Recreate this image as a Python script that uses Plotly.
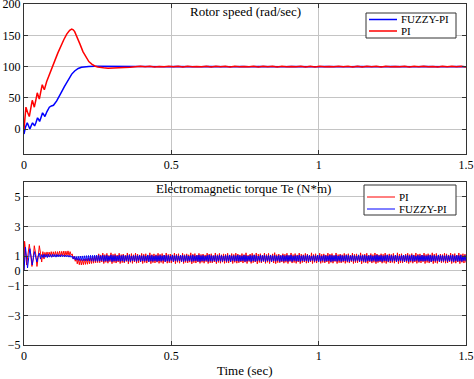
import numpy as np
import plotly.graph_objects as go

# ---------------- Rotor speed (rad/sec) ----------------
speed_pi_t = [0, 0.003, 0.0066, 0.012, 0.018, 0.023, 0.028, 0.032, 0.035, 0.040, 0.045, 0.049,
              0.052, 0.057, 0.062, 0.066, 0.069, 0.077, 0.086, 0.094, 0.105, 0.115, 0.125, 0.135,
              0.145, 0.155, 0.162, 0.167, 0.172, 0.180, 0.190, 0.200, 0.210, 0.220, 0.230, 0.240,
              0.250, 0.260, 0.270, 0.285, 0.300, 0.320, 0.340, 0.360, 0.380]
speed_pi_v = [0, 22, 35, 27, 20, 33, 46, 40, 35, 46, 58, 52,
              48, 60, 71, 66, 63, 76, 88, 98, 110, 122, 133, 143,
              152, 158, 160, 159, 156, 148, 136, 124, 115, 108, 104, 101,
              99.5, 98.5, 98, 97.5, 97.5, 98, 98.5, 99, 99.5]

speed_fz_t = [0, 0.005, 0.011, 0.016, 0.020, 0.025, 0.029, 0.033, 0.036, 0.041, 0.046, 0.050,
              0.053, 0.058, 0.063, 0.067, 0.071, 0.078, 0.086, 0.093, 0.100, 0.111, 0.120, 0.128,
              0.137, 0.145, 0.154, 0.162, 0.172, 0.184, 0.195, 0.207, 0.220, 0.240, 0.260, 0.300,
              0.340, 0.380]
speed_fz_v = [-8, 3, 10, 4, 0, 6, 10, 7, 5, 11, 18, 15,
              12, 19, 26, 23, 20, 28, 35, 37, 38, 45, 52, 60,
              68, 75, 82, 88, 93, 97, 99, 100, 100.3, 100.4, 100.2, 100.1,
              100, 100]

# steady-state ripple of the speed (0.4 .. 1.5 s)
speed_pi_ripple = [100.5, 99.6, 100.6, 99.5, 100.3, 99.6, 100.6, 99.7, 100.4, 99.5,
                   100.5, 99.6, 100.3, 99.7, 100.6, 99.5, 100.4, 99.6, 100.5, 99.5,
                   100.6, 99.6, 100.3, 99.7, 100.5, 99.5, 100.4, 99.6, 100.6, 99.5,
                   100.5, 99.6, 100.3, 99.7, 100.6, 99.5, 100.4, 99.5, 100.5, 99.6,
                   100.3, 99.6, 100.6, 99.7, 100.5, 99.5, 100.4, 99.5, 100.6, 99.6,
                   100.4, 99.5, 100.5, 99.7, 100.3, 99.6, 100.6, 99.5, 100.4, 99.6,
                   100.5, 99.6, 100.3, 99.5, 100.6, 99.7, 100.4, 99.6, 100.5, 99.5]
speed_fz_ripple = [100.3, 99.8, 100.3, 99.8, 100.2, 99.7, 100.3, 99.8, 100.2, 99.8,
                   100.2, 99.8, 100.3, 99.7, 100.3, 99.8, 100.2, 99.8, 100.3, 99.8,
                   100.2, 99.7, 100.2, 99.8, 100.3, 99.8, 100.2, 99.8, 100.2, 99.7,
                   100.3, 99.8, 100.2, 99.8, 100.2, 99.8, 100.3, 99.7, 100.2, 99.8]

# ---------------- Electromagnetic torque Te (N*m) ----------------
torque_pi_t = [0, 0.002, 0.004, 0.009, 0.013, 0.018, 0.022, 0.027, 0.031, 0.035,
               0.040, 0.044, 0.048, 0.052, 0.056, 0.060, 0.064, 0.068]
torque_pi_v = [0, 2.0, 1.6, 0.4, 0.9, 1.8, 1.2, 0.3, 0.8, 1.7,
               1.1, 0.3, 0.9, 1.7, 1.2, 0.6, 1.3, 0.8]
torque_fz_t = [0, 0.003, 0.005, 0.009, 0.012, 0.016, 0.020, 0.024, 0.028, 0.032,
               0.036, 0.040, 0.044, 0.048, 0.052, 0.056, 0.060, 0.065]
torque_fz_v = [0, 1.2, 1.6, 0.8, 0.2, 0.9, 1.5, 1.0, 0.4, 0.9,
               1.3, 0.9, 0.6, 1.0, 1.2, 0.8, 1.1, 0.9]

# ripple 0.07 .. 0.16 s
torque_pi_band1 = [1.25, 0.98, 1.28, 0.95, 1.27, 1.0, 1.3, 0.97, 1.29, 1.0, 1.31, 0.98, 1.3,
                   1.02, 1.33, 0.99, 1.32, 1.03, 1.34, 1.0, 1.33, 1.04, 1.35, 1.02, 1.3, 1.05]
torque_fz_band1 = [1.12, 0.92, 1.1, 0.9, 1.13, 0.93, 1.1, 0.92, 1.12, 0.95, 1.1, 0.93, 1.11,
                   0.95, 1.09, 0.94, 1.1, 0.96, 1.08, 0.94, 1.07, 0.95, 1.06, 0.93, 1.05, 0.92]
# ripple 0.16 .. 0.25 s
torque_pi_band2 = [1.15, 0.8, 1.0, 0.65, 0.9, 0.48, 0.82, 0.42, 0.78, 0.4, 0.76, 0.42, 0.8,
                   0.44, 0.82, 0.45, 0.85, 0.48, 0.9, 0.5, 0.95, 0.52, 1.0, 0.55, 1.05, 0.56]
torque_fz_band2 = [1.0, 0.8, 0.98, 0.75, 0.97, 0.72, 0.98, 0.7, 1.0, 0.7, 1.01, 0.69, 1.02,
                   0.68, 1.03, 0.68, 1.04, 0.67, 1.05, 0.66, 1.05, 0.65, 1.06, 0.66, 1.05, 0.65]
# steady-state ripple 0.25 .. 1.5 s
torque_pi_steady = [
    1.15, 0.55, 1.08, 0.6, 1.2, 0.5, 1.1, 0.58, 1.18, 0.52, 1.05, 0.62, 1.22, 0.49, 1.12, 0.57, 1.16, 0.53, 1.07, 0.6,
    1.19, 0.5, 1.1, 0.56, 1.14, 0.54, 1.06, 0.63, 1.21, 0.48, 1.11, 0.58, 1.17, 0.51, 1.09, 0.6, 1.2, 0.52, 1.13, 0.55,
    1.08, 0.61, 1.18, 0.5, 1.12, 0.57, 1.16, 0.53, 1.05, 0.62, 1.22, 0.49, 1.1, 0.56, 1.15, 0.54, 1.09, 0.59, 1.19, 0.51,
    1.12, 0.57, 1.17, 0.5, 1.07, 0.62, 1.21, 0.52, 1.11, 0.55, 1.14, 0.53, 1.08, 0.6, 1.2, 0.49, 1.13, 0.58, 1.16, 0.52,
    1.06, 0.61, 1.19, 0.5, 1.1, 0.57, 1.15, 0.54, 1.09, 0.59, 1.22, 0.48, 1.12, 0.56, 1.17, 0.53, 1.07, 0.6, 1.18, 0.51,
    1.11, 0.58, 1.14, 0.52, 1.08, 0.62, 1.2, 0.5, 1.13, 0.55, 1.16, 0.54, 1.05, 0.6, 1.21, 0.49, 1.1, 0.57, 1.18, 0.52,
    1.09, 0.59, 1.15, 0.51, 1.12, 0.56, 1.19, 0.53, 1.07, 0.61, 1.17, 0.5, 1.11, 0.58, 1.2, 0.52, 1.14, 0.55, 1.08, 0.6,
    1.17, 0.53, 1.1, 0.59, 1.22, 0.5, 1.06, 0.63, 1.14, 0.51, 1.19, 0.56, 1.09, 0.6, 1.21, 0.48, 1.13, 0.57, 1.16, 0.54,
    1.07, 0.62, 1.2, 0.51, 1.11, 0.58, 1.18, 0.5, 1.08, 0.61, 1.15, 0.53, 1.23, 0.49, 1.1, 0.56, 1.14, 0.55, 1.06, 0.6,
    1.16, 0.52, 1.12, 0.58, 1.19, 0.5, 1.05, 0.63, 1.21, 0.53, 1.1, 0.57, 1.17, 0.51, 1.08, 0.6, 1.2, 0.49, 1.13, 0.56,
    1.09, 0.6, 1.18, 0.52, 1.14, 0.55, 1.07, 0.61, 1.22, 0.5, 1.11, 0.58, 1.16, 0.53, 1.06, 0.62, 1.19, 0.51, 1.12, 0.57,
    1.15, 0.54, 1.08, 0.6, 1.2, 0.49, 1.13, 0.57, 1.17, 0.52, 1.05, 0.63, 1.21, 0.5, 1.1, 0.56, 1.14, 0.54, 1.09, 0.59,
    1.18, 0.51, 1.11, 0.58, 1.16, 0.53, 1.07, 0.62, 1.2, 0.5, 1.12, 0.56, 1.15, 0.55, 1.08, 0.6, 1.22, 0.48, 1.1, 0.57,
    1.13, 0.55, 1.19, 0.51, 1.06, 0.61, 1.17, 0.53, 1.1, 0.58, 1.21, 0.49, 1.14, 0.56, 1.08, 0.6, 1.16, 0.52, 1.12, 0.57,
    1.2, 0.5, 1.09, 0.59, 1.15, 0.54, 1.11, 0.57, 1.18, 0.52, 1.07, 0.62, 1.22, 0.49, 1.13, 0.55, 1.16, 0.53, 1.06, 0.61,
    1.14, 0.56, 1.19, 0.5, 1.1, 0.58, 1.17, 0.52, 1.08, 0.6, 1.21, 0.51, 1.12, 0.57, 1.15, 0.54, 1.07, 0.62, 1.2, 0.5,
    1.11, 0.57, 1.16, 0.53, 1.09, 0.6, 1.22, 0.49, 1.13, 0.56, 1.18, 0.51, 1.06, 0.62, 1.14, 0.55, 1.1, 0.58, 1.19, 0.52,
    1.15, 0.54, 1.08, 0.61, 1.2, 0.5, 1.12, 0.57, 1.17, 0.52, 1.07, 0.6, 1.21, 0.49, 1.11, 0.58, 1.16, 0.53, 1.13, 0.56]
torque_fz_steady = [
    1.05, 0.66, 1.02, 0.69, 1.07, 0.63, 1.03, 0.67, 1.06, 0.64, 1.0, 0.7, 1.08, 0.62, 1.04, 0.66, 1.05, 0.65, 1.01, 0.68,
    1.06, 0.64, 1.03, 0.67, 1.07, 0.62, 1.02, 0.69, 1.05, 0.65, 1.08, 0.63, 1.01, 0.68, 1.04, 0.66, 1.06, 0.64, 1.03, 0.7,
    1.07, 0.63, 1.02, 0.67, 1.05, 0.65, 1.0, 0.69, 1.08, 0.62, 1.04, 0.66, 1.06, 0.64, 1.01, 0.68, 1.05, 0.63, 1.03, 0.67,
    1.06, 0.65, 1.02, 0.69, 1.07, 0.62, 1.04, 0.66, 1.05, 0.64, 1.0, 0.7, 1.08, 0.63, 1.03, 0.67, 1.06, 0.65, 1.02, 0.68,
    1.05, 0.64, 1.07, 0.62, 1.03, 0.67, 1.06, 0.65, 1.01, 0.69, 1.04, 0.63, 1.08, 0.66, 1.02, 0.68, 1.05, 0.64, 1.07, 0.62,
    1.03, 0.67, 1.06, 0.65, 1.0, 0.69, 1.05, 0.63, 1.08, 0.66, 1.04, 0.64, 1.02, 0.68, 1.06, 0.62, 1.03, 0.67, 1.07, 0.65,
    1.05, 0.64, 1.01, 0.68, 1.06, 0.63, 1.04, 0.66, 1.08, 0.62, 1.02, 0.69, 1.05, 0.65, 1.03, 0.67, 1.07, 0.64, 1.04, 0.66,
    1.02, 0.68, 1.07, 0.63, 1.05, 0.65, 1.01, 0.69, 1.06, 0.62, 1.03, 0.67, 1.08, 0.64, 1.04, 0.66, 1.0, 0.7, 1.06, 0.63,
    1.04, 0.66, 1.08, 0.62, 1.02, 0.68, 1.05, 0.64, 1.07, 0.63, 1.03, 0.67, 1.06, 0.65, 1.01, 0.69, 1.05, 0.62, 1.03, 0.66,
    1.07, 0.64, 1.02, 0.67, 1.06, 0.63, 1.04, 0.68, 1.08, 0.62, 1.01, 0.69, 1.05, 0.65, 1.03, 0.66, 1.07, 0.63, 1.02, 0.68,
    1.05, 0.65, 1.03, 0.67, 1.08, 0.62, 1.04, 0.66, 1.0, 0.7, 1.06, 0.64, 1.02, 0.68, 1.07, 0.63, 1.05, 0.65, 1.01, 0.69,
    1.06, 0.63, 1.04, 0.66, 1.02, 0.68, 1.07, 0.62, 1.05, 0.65, 1.03, 0.67, 1.08, 0.64, 1.01, 0.69, 1.06, 0.63, 1.04, 0.66,
    1.03, 0.67, 1.07, 0.64, 1.05, 0.62, 1.02, 0.69, 1.06, 0.65, 1.04, 0.66, 1.0, 0.7, 1.08, 0.63, 1.03, 0.67, 1.05, 0.64,
    1.07, 0.62, 1.02, 0.68, 1.04, 0.66, 1.06, 0.64, 1.01, 0.69, 1.05, 0.63, 1.08, 0.65, 1.03, 0.67, 1.06, 0.62, 1.02, 0.68,
    1.05, 0.66, 1.08, 0.63, 1.03, 0.67, 1.06, 0.64, 1.02, 0.69, 1.07, 0.62, 1.04, 0.66, 1.01, 0.68, 1.05, 0.65, 1.07, 0.63,
    1.04, 0.67, 1.06, 0.62, 1.02, 0.68, 1.08, 0.64, 1.05, 0.66, 1.0, 0.7, 1.06, 0.63, 1.03, 0.67, 1.07, 0.65, 1.04, 0.66,
    1.02, 0.69, 1.05, 0.64, 1.07, 0.62, 1.03, 0.67, 1.06, 0.65, 1.01, 0.68, 1.08, 0.63, 1.04, 0.66, 1.05, 0.64, 1.02, 0.69,
    1.06, 0.63, 1.03, 0.67, 1.05, 0.65, 1.08, 0.62, 1.02, 0.68, 1.06, 0.64, 1.04, 0.66, 1.07, 0.63, 1.01, 0.69, 1.05, 0.65]

x_ticks = [0, 0.5, 1, 1.5]
x_ticklabels = ["0", "0.5", "1", "1.5"]
speed_yticks = [0, 50, 100, 150, 200]
torque_yticks = [-5, -3, -1, 0, 1, 3, 5]

# sample instants of the ripple sections
sp_pi_rt = np.linspace(speed_pi_t[-1] + 0.015, 1.5, len(speed_pi_ripple))
sp_fz_rt = np.linspace(speed_fz_t[-1] + 0.02, 1.5, len(speed_fz_ripple))
b1_pi = np.linspace(0.071, 0.16, len(torque_pi_band1))
b1_fz = np.linspace(0.068, 0.16, len(torque_fz_band1))
b2_pi = np.linspace(0.1635, 0.25, len(torque_pi_band2))
b2_fz = np.linspace(0.1635, 0.25, len(torque_fz_band2))
st_pi = np.linspace(0.2535, 1.5, len(torque_pi_steady))
st_fz = np.linspace(0.2535, 1.5, len(torque_fz_steady))

FONT = "Liberation Serif"
RED = "#ff0000"
BLUE = "#0000ff"
DARK = "#333333"

fig = go.Figure()
fig.add_trace(go.Scatter(x=list(speed_fz_t) + list(sp_fz_rt), y=speed_fz_v + speed_fz_ripple,
                         mode="lines", name="FUZZY-PI", line=dict(color=BLUE, width=1.5),
                         xaxis="x", yaxis="y"))
fig.add_trace(go.Scatter(x=list(speed_pi_t) + list(sp_pi_rt), y=speed_pi_v + speed_pi_ripple,
                         mode="lines", name="PI", line=dict(color=RED, width=1.5),
                         xaxis="x", yaxis="y"))
fig.add_trace(go.Scatter(x=list(torque_pi_t) + list(b1_pi) + list(b2_pi) + list(st_pi),
                         y=torque_pi_v + torque_pi_band1 + torque_pi_band2 + torque_pi_steady,
                         mode="lines", name="PI", line=dict(color=RED, width=1),
                         xaxis="x2", yaxis="y2"))
fig.add_trace(go.Scatter(x=list(torque_fz_t) + list(b1_fz) + list(b2_fz) + list(st_fz),
                         y=torque_fz_v + torque_fz_band1 + torque_fz_band2 + torque_fz_steady,
                         mode="lines", name="FUZZY-PI", line=dict(color=BLUE, width=1),
                         xaxis="x2", yaxis="y2"))

axis_common = dict(showgrid=True, gridcolor="#c4c4c4", gridwidth=1, zeroline=False,
                   showline=True, linecolor=DARK, linewidth=1, mirror="ticks",
                   ticks="inside", ticklen=4, tickcolor=DARK, automargin=False,
                   tickfont=dict(family=FONT, size=12, color="black"))

# plot-area pixel mapping helpers for the hand-drawn legends (layout only)
L, R, T, B = 24, 8, 4, 34
W, H = 474, 379
def px(xp):
    return (xp - L) / (W - L - R)
def py(yp):
    return (H - B - yp) / (H - T - B)

shapes = []
annotations = []
def legend_box(x0, x1, y0, y1, entries):
    shapes.append(dict(type="rect", xref="paper", yref="paper", x0=px(x0), x1=px(x1),
                       y0=py(y1), y1=py(y0), line=dict(color=DARK, width=1),
                       fillcolor="white", layer="above"))
    for name, color, width, yy in entries:
        shapes.append(dict(type="line", xref="paper", yref="paper", x0=px(x0 + 3),
                           x1=px(x0 + 31), y0=py(yy), y1=py(yy),
                           line=dict(color=color, width=width), layer="above"))
        annotations.append(dict(text=name, xref="paper", yref="paper", x=px(x0 + 33),
                                y=py(yy), xanchor="left", yanchor="middle", showarrow=False,
                                font=dict(family=FONT, size=11, color="black")))

legend_box(366, 456, 13, 38, [("FUZZY-PI", BLUE, 1.5, 19.5), ("PI", RED, 1.5, 31)])
legend_box(364, 456, 185, 215, [("PI", RED, 1, 197), ("FUZZY-PI", BLUE, 1, 209)])

annotations += [
    dict(text="Rotor speed (rad/sec)", xref="paper", yref="paper", x=px(245), y=py(12),
         xanchor="center", yanchor="middle", showarrow=False, font=dict(family=FONT, size=13)),
    dict(text="Electromagnetic torque Te (N*m)", xref="paper", yref="paper", x=px(243), y=py(188),
         xanchor="center", yanchor="middle", showarrow=False, font=dict(family=FONT, size=13)),
    dict(text="Time (sec)", xref="paper", yref="paper", x=px(245), y=py(370),
         xanchor="center", yanchor="middle", showarrow=False, font=dict(family=FONT, size=13)),
]

fig.update_layout(
    width=W, height=H,
    margin=dict(l=L, r=R, t=T, b=B),
    paper_bgcolor="white", plot_bgcolor="white",
    font=dict(family=FONT, size=12, color="black"),
    showlegend=False,
    xaxis=dict(domain=[0, 1], anchor="y", range=[0, 1.5], tickvals=x_ticks,
               ticktext=x_ticklabels, **axis_common),
    yaxis=dict(domain=[py(154), 1], anchor="x", range=[-40, 200.3], tickvals=speed_yticks,
               ticklabeloverflow="allow", **axis_common),
    xaxis2=dict(domain=[0, 1], anchor="y2", range=[0, 1.5], tickvals=x_ticks,
                ticktext=x_ticklabels, **axis_common),
    yaxis2=dict(domain=[0, py(182)], anchor="x2", range=[-5, 6], tickvals=torque_yticks,
                **axis_common),
    shapes=shapes,
    annotations=annotations,
)

fig.write_html("out.html", config={"displayModeBar": False},
               post_script="document.body.style.margin='0';document.body.style.overflow='hidden';")
